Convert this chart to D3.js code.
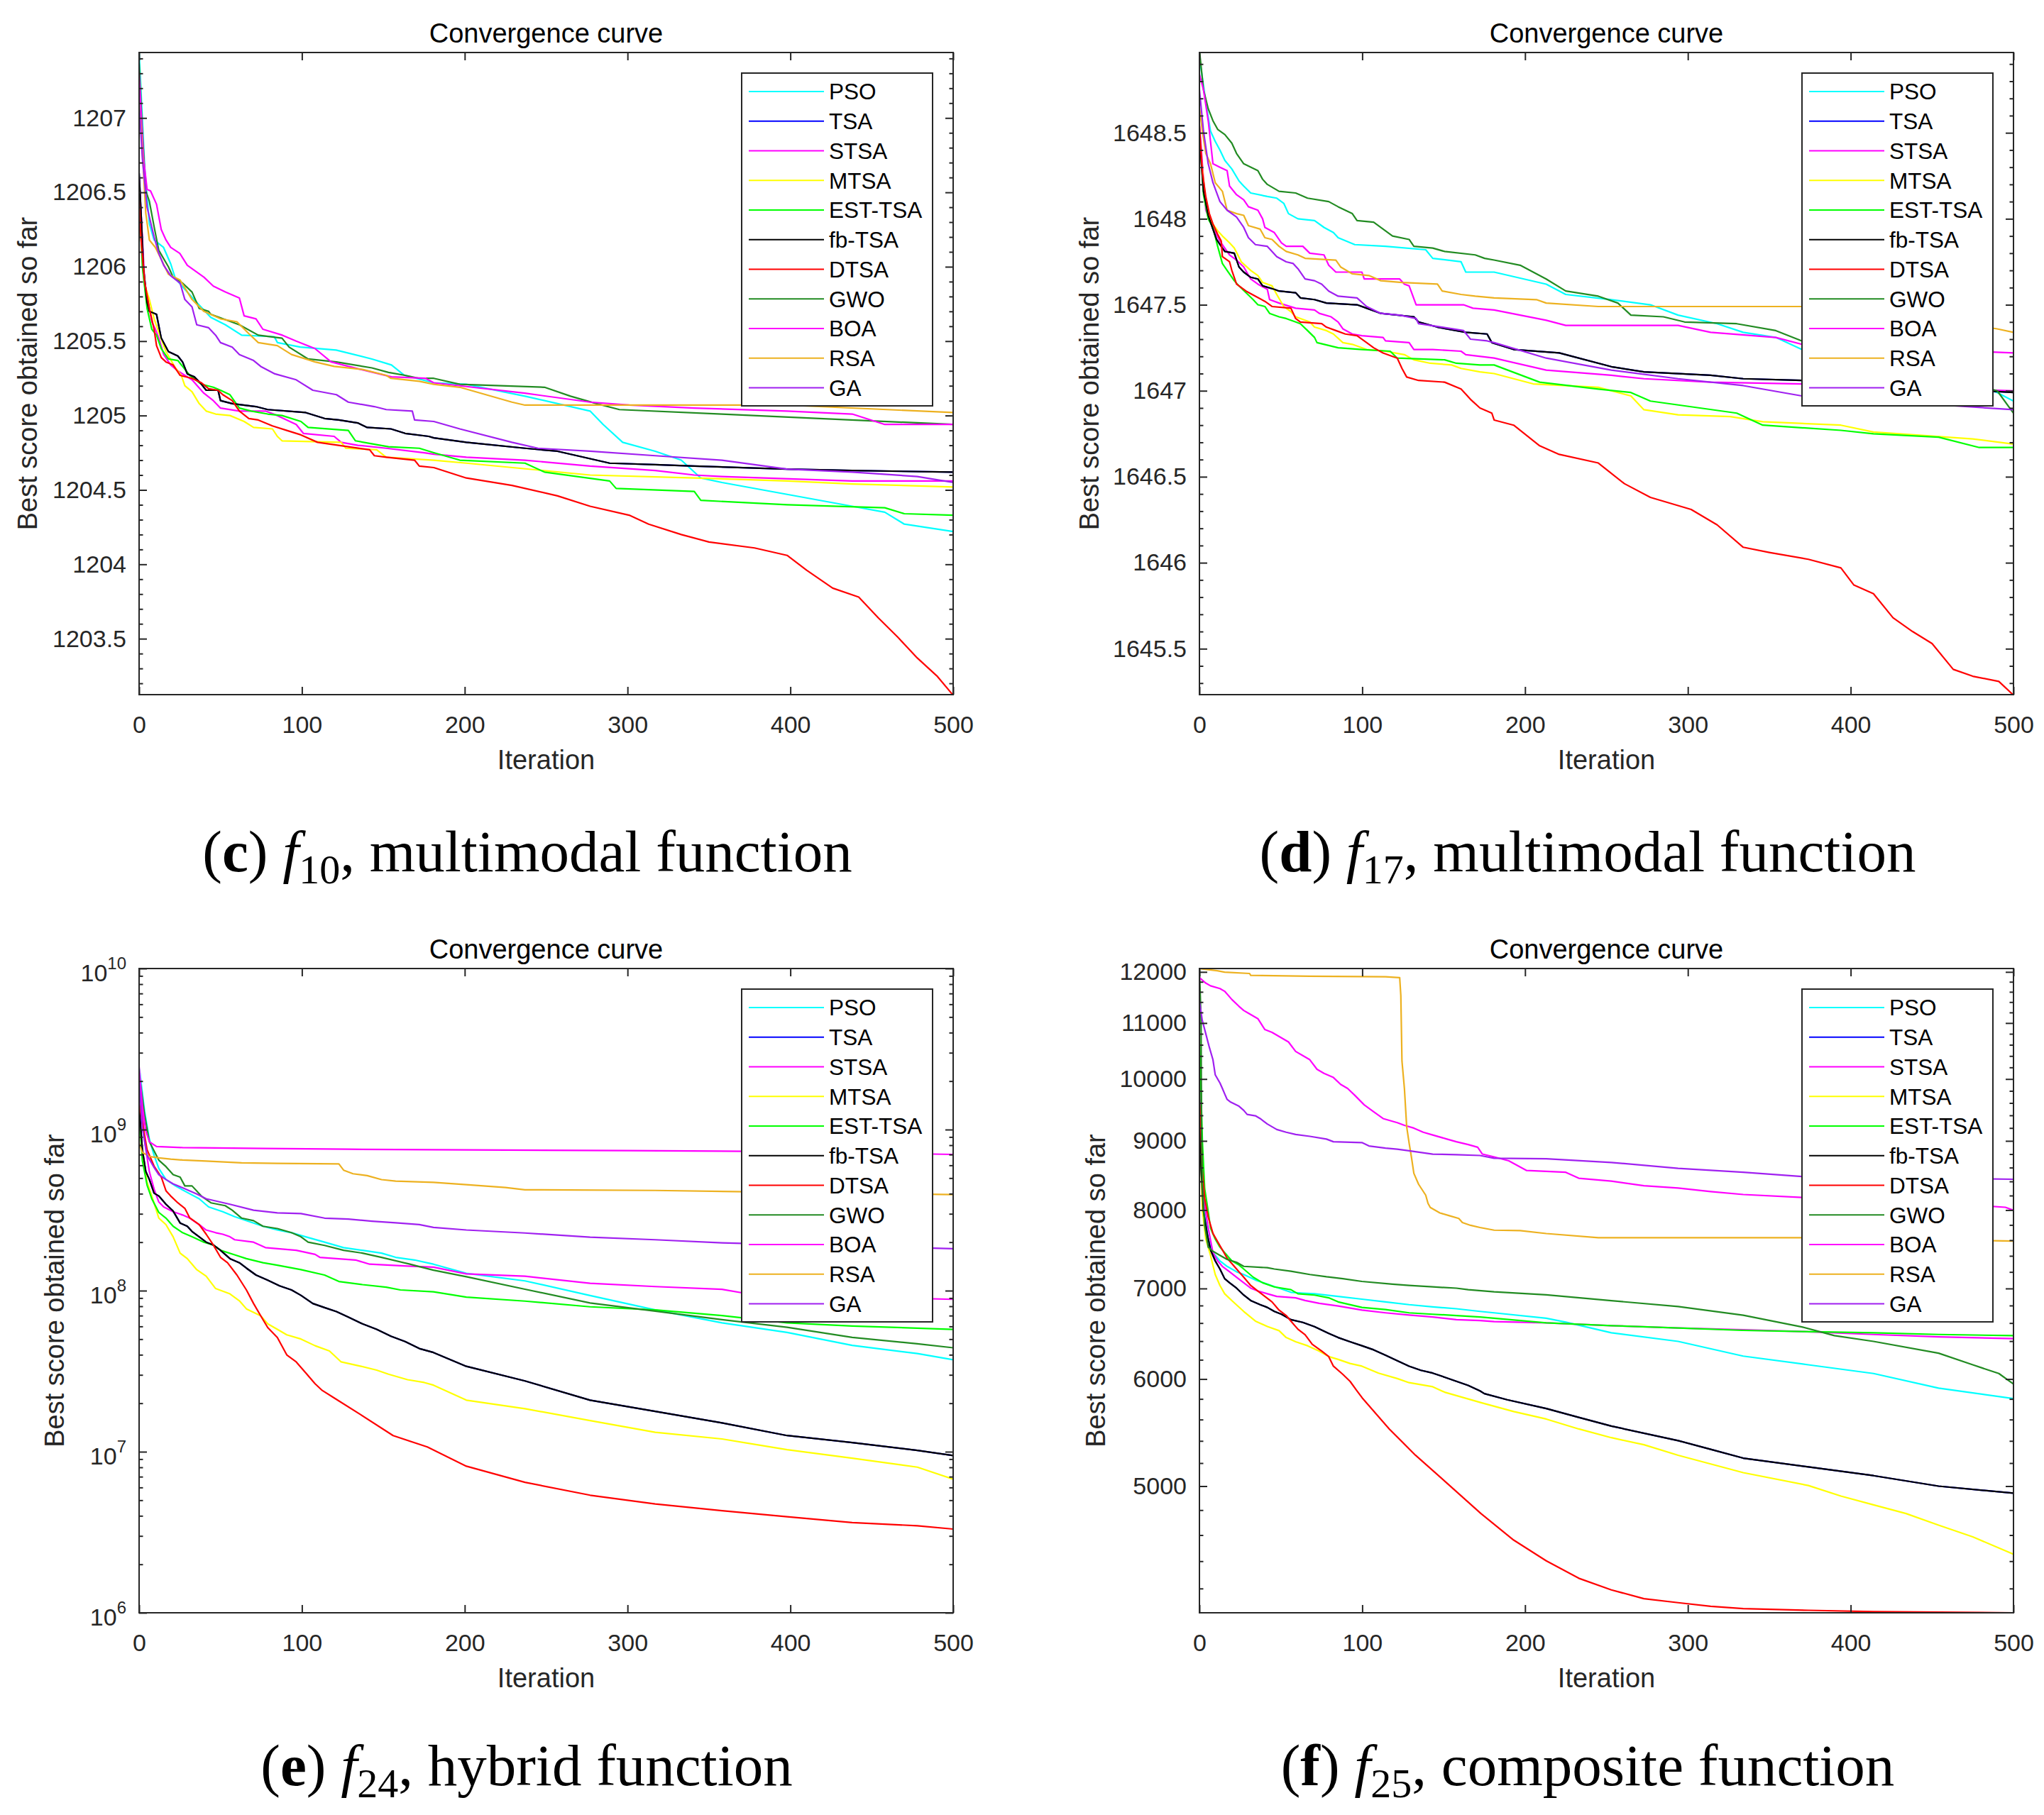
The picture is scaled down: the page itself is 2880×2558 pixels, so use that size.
<!DOCTYPE html>
<html><head><meta charset="utf-8">
<script src="https://cdn.jsdelivr.net/npm/d3@7"></script>
<style>body{margin:0;background:#fff}svg{display:block}</style>
</head><body>
<svg id="chart" width="2880" height="2558"></svg>
<script>
// ---------------- DATA ----------------
const algorithms = ["PSO","TSA","STSA","MTSA","EST-TSA","fb-TSA","DTSA","GWO","BOA","RSA","GA"];
const seriesColors = ["#00ffff","#0000ff","#ff00ff","#ffff00","#00ff00","#000000","#ff0000","#228b22","#ff00ff","#edb120","#a020f0"];
const xTickValues = [0,100,200,300,400,500];

// (c) f10 — [iteration, best score]
const f10_PSO = [[0,1207.44],[3.4,1206.67],[6.3,1206.29],[9.2,1206.18],[15,1206.13],[19.4,1206.02],[22.3,1205.92],[28,1205.85],[35.4,1205.76],[44,1205.66],[53,1205.61],[63,1205.54],[83,1205.53],[85,1205.49],[99,1205.46],[121,1205.44],[143,1205.38],[155,1205.34],[163,1205.27],[181,1205.22],[201,1205.21],[237,1205.13],[277,1205.03],[285,1204.94],[297,1204.82],[317,1204.76],[333,1204.70],[345,1204.58],[358,1204.55],[398,1204.47],[438,1204.39],[458,1204.35],[470,1204.27],[500,1204.22]];
const f10_STSA = [[0,1206.6],[3.4,1205.9],[7.8,1205.63],[10,1205.58],[12.1,1205.52],[15.1,1205.41],[19.4,1205.34],[23.8,1205.30],[32.5,1205.24],[39.8,1205.15],[45.6,1205.10],[50,1205.05],[61.6,1205.03],[77.6,1205.03],[84.9,1205.0],[96.5,1204.94],[100.9,1204.88],[119.8,1204.86],[124.1,1204.82],[134.3,1204.80],[151.8,1204.78],[175.1,1204.75],[181,1204.74],[201,1204.72],[237,1204.70],[277,1204.66],[317,1204.63],[341,1204.60],[358,1204.59],[438,1204.56],[500,1204.56]];
const f10_MTSA = [[0,1206.4],[2,1206.1],[3.4,1205.88],[6.3,1205.78],[9.2,1205.65],[12.1,1205.56],[16.5,1205.43],[22.3,1205.32],[25.9,1205.27],[28.1,1205.20],[32.5,1205.16],[36.9,1205.08],[41.2,1205.03],[47,1205.01],[55.8,1205.0],[64.5,1204.96],[70.3,1204.92],[81.9,1204.91],[84.9,1204.86],[87.8,1204.83],[124.1,1204.82],[127,1204.78],[145.9,1204.77],[151.8,1204.72],[181,1204.70],[201,1204.68],[277,1204.60],[341,1204.58],[398,1204.56],[438,1204.54],[500,1204.52]];
const f10_EST = [[0,1206.5],[2,1206.0],[4.9,1205.72],[7.8,1205.58],[10.7,1205.54],[13.6,1205.45],[18,1205.38],[23.8,1205.37],[26.7,1205.33],[31.1,1205.27],[38.3,1205.21],[45.6,1205.19],[50,1205.17],[55.8,1205.14],[61.6,1205.05],[68.9,1205.03],[79,1205.01],[87.8,1205.0],[99.4,1204.96],[103.8,1204.92],[128.5,1204.90],[132.9,1204.83],[153.2,1204.79],[172.1,1204.78],[181,1204.75],[197,1204.70],[237,1204.68],[249,1204.62],[289,1204.56],[293,1204.51],[341,1204.49],[345,1204.43],[398,1204.40],[458,1204.38],[470,1204.34],[500,1204.33]];
const f10_fbTSA = [[0,1206.63],[1.2,1206.36],[2.7,1205.99],[4.9,1205.76],[6.3,1205.70],[10.7,1205.68],[13.6,1205.52],[18,1205.43],[23.8,1205.40],[26.7,1205.36],[29.6,1205.28],[33.9,1205.26],[38.3,1205.21],[41.2,1205.17],[48.5,1205.17],[50,1205.10],[57.2,1205.08],[71.8,1205.06],[79,1205.04],[102.3,1205.02],[113.9,1204.98],[122.7,1204.97],[134.3,1204.95],[140.1,1204.92],[154.7,1204.91],[163.4,1204.88],[177.9,1204.86],[181,1204.85],[201,1204.82],[237,1204.78],[257,1204.76],[289,1204.68],[317,1204.67],[341,1204.66],[398,1204.64],[438,1204.63],[500,1204.62]];
const f10_TSA = f10_fbTSA.map(d => d.slice()); // hidden beneath fb-TSA in the figure
const f10_DTSA = [[0,1206.45],[1.2,1206.18],[3.4,1205.9],[6.3,1205.72],[9.2,1205.58],[10.7,1205.47],[13.6,1205.39],[16.5,1205.36],[20.9,1205.34],[25.2,1205.27],[32.5,1205.25],[38.3,1205.22],[42.7,1205.18],[48.5,1205.17],[51.4,1205.14],[57.2,1205.10],[61.6,1205.03],[67.4,1204.98],[73.2,1204.97],[81.9,1204.93],[90.7,1204.90],[99.4,1204.87],[109.6,1204.82],[128.5,1204.79],[141.6,1204.77],[144.5,1204.73],[151.8,1204.72],[169.2,1204.70],[172.1,1204.66],[181,1204.65],[201,1204.58],[229,1204.53],[257,1204.46],[277,1204.39],[301,1204.33],[313,1204.27],[333,1204.20],[350,1204.15],[378,1204.11],[398,1204.06],[410,1203.96],[426,1203.84],[442,1203.78],[454,1203.64],[466,1203.51],[478,1203.37],[490,1203.25],[500,1203.12]];
const f10_GWO = [[0,1207.37],[2,1206.91],[4.1,1206.51],[6.3,1206.44],[9.2,1206.27],[12.1,1206.11],[18,1206.0],[20.9,1205.93],[26.7,1205.89],[32.5,1205.83],[36.9,1205.72],[42.7,1205.70],[44.1,1205.68],[61.6,1205.61],[73.2,1205.54],[87.8,1205.52],[92.1,1205.46],[103.8,1205.38],[121.2,1205.36],[143,1205.32],[153.2,1205.29],[163.4,1205.27],[172.1,1205.25],[181,1205.25],[197,1205.21],[249,1205.19],[265,1205.13],[281,1205.08],[295,1205.04],[358,1205.01],[418,1204.98],[500,1204.94]];
const f10_BOA = [[0,1207.3],[2.7,1206.73],[4.9,1206.52],[7,1206.51],[10.7,1206.42],[13.6,1206.25],[16.5,1206.18],[19.4,1206.13],[25,1206.09],[29.6,1206.01],[39.8,1205.93],[45.6,1205.87],[53,1205.83],[61.6,1205.79],[64.5,1205.67],[71.8,1205.65],[76,1205.58],[88,1205.54],[96.5,1205.50],[108,1205.45],[118,1205.36],[136,1205.31],[155,1205.26],[176,1205.25],[181,1205.22],[237,1205.15],[277,1205.09],[301,1205.07],[341,1205.05],[398,1205.03],[438,1205.01],[458,1204.94],[500,1204.94]];
const f10_RSA = [[0,1207.09],[1.2,1206.94],[4.1,1206.36],[6.3,1206.18],[10,1206.13],[13.6,1206.05],[18,1205.95],[25.2,1205.91],[32.5,1205.78],[39.8,1205.70],[50,1205.65],[60.1,1205.63],[67.4,1205.55],[73.2,1205.49],[84.9,1205.47],[93.6,1205.41],[108.1,1205.36],[119.8,1205.33],[137.2,1205.31],[151.8,1205.27],[154.7,1205.25],[172.1,1205.23],[181,1205.21],[197,1205.19],[229,1205.09],[237,1205.07],[398,1205.07],[500,1205.02]];
const f10_GA = [[0,1207.1],[2,1206.73],[4.9,1206.4],[9.2,1206.2],[12.1,1206.09],[15.1,1206.01],[19.4,1205.94],[25.2,1205.89],[28.1,1205.78],[32.5,1205.73],[35.4,1205.61],[42.7,1205.59],[47,1205.54],[50,1205.49],[57.2,1205.46],[61.6,1205.41],[70.3,1205.37],[74.7,1205.33],[83.4,1205.28],[96.5,1205.24],[106.7,1205.17],[121.2,1205.14],[128.5,1205.09],[144.5,1205.06],[151.8,1205.04],[167.8,1205.03],[169.2,1204.97],[181,1204.96],[197,1204.91],[229,1204.82],[245,1204.78],[277,1204.76],[317,1204.73],[358,1204.70],[398,1204.64],[438,1204.62],[478,1204.59],[500,1204.55]];

// (d) f17
const f17_PSO = [[0,1648.94],[3.9,1648.68],[6.8,1648.51],[9.7,1648.45],[12.6,1648.40],[15.6,1648.34],[19.9,1648.29],[24.3,1648.22],[27.2,1648.19],[31.5,1648.15],[41.7,1648.13],[47.5,1648.12],[51.8,1648.09],[54.7,1648.03],[60.5,1648.0],[70.7,1647.99],[76.5,1647.95],[82.3,1647.92],[85.2,1647.89],[95.4,1647.85],[114.3,1647.84],[139,1647.82],[143.3,1647.77],[160.7,1647.75],[163.6,1647.69],[181,1647.69],[213,1647.62],[225,1647.56],[253,1647.53],[277,1647.50],[294,1647.44],[318,1647.39],[334,1647.34],[354,1647.31],[370,1647.24],[382,1647.22],[450,1647.10],[490,1646.99],[500,1646.94]];
const f17_STSA = [[0,1648.55],[3.9,1648.05],[8.3,1647.95],[12.6,1647.87],[18.5,1647.79],[22.8,1647.76],[27.2,1647.72],[31.5,1647.65],[35.9,1647.62],[41.7,1647.59],[43.1,1647.53],[48.9,1647.51],[59.1,1647.48],[70.7,1647.47],[73.6,1647.45],[80.9,1647.43],[85.2,1647.40],[88.1,1647.36],[93.9,1647.33],[99.8,1647.32],[112.8,1647.31],[114.3,1647.29],[128.8,1647.28],[131.7,1647.24],[143.3,1647.24],[160.7,1647.23],[163.6,1647.21],[181,1647.19],[213,1647.12],[253,1647.09],[273,1647.07],[314,1647.05],[370,1647.04],[500,1647.0]];
const f17_MTSA = [[0,1648.45],[3.9,1648.10],[6.8,1647.99],[11.2,1647.93],[14.1,1647.90],[18.5,1647.86],[21.4,1647.83],[25.7,1647.75],[31.5,1647.70],[35.9,1647.67],[38.8,1647.63],[44.6,1647.61],[47.5,1647.56],[51.8,1647.49],[56.2,1647.46],[59.1,1647.43],[67.8,1647.40],[70.7,1647.37],[78,1647.35],[82.3,1647.33],[88.1,1647.28],[93.9,1647.27],[102.7,1647.24],[114.3,1647.23],[125.9,1647.21],[131.7,1647.18],[141.8,1647.16],[154.9,1647.15],[160.7,1647.13],[172.3,1647.11],[181,1647.10],[205,1647.04],[245,1647.02],[265,1646.97],[273,1646.89],[294,1646.86],[326,1646.85],[346,1646.82],[394,1646.80],[414,1646.76],[475,1646.72],[500,1646.69]];
const f17_EST = [[0,1648.5],[2.5,1648.14],[5.4,1648.0],[8.3,1647.95],[11.2,1647.84],[14.1,1647.74],[17,1647.70],[21.4,1647.64],[24.3,1647.61],[28.6,1647.57],[33,1647.53],[35.9,1647.50],[40.2,1647.49],[43.1,1647.45],[48.9,1647.43],[53.3,1647.42],[59.1,1647.40],[62,1647.39],[66.4,1647.35],[70.7,1647.31],[72.2,1647.28],[85.2,1647.25],[99.8,1647.24],[117.2,1647.23],[121.5,1647.19],[150.6,1647.18],[157.8,1647.16],[172.3,1647.15],[181,1647.15],[209,1647.05],[245,1647.01],[265,1646.99],[277,1646.94],[330,1646.87],[346,1646.80],[394,1646.77],[414,1646.75],[454,1646.73],[479,1646.67],[500,1646.67]];
const f17_fbTSA = [[0,1648.48],[2.5,1648.16],[5.4,1648.02],[8.3,1647.94],[10.5,1647.88],[14.1,1647.83],[15.6,1647.81],[21.4,1647.80],[24.3,1647.72],[27.2,1647.69],[31.5,1647.66],[35.9,1647.65],[38.8,1647.61],[46,1647.59],[48.9,1647.58],[59.1,1647.57],[62,1647.54],[70.7,1647.53],[78,1647.51],[96.8,1647.50],[102.7,1647.48],[108.5,1647.46],[111.4,1647.45],[131.7,1647.43],[134.6,1647.40],[146.2,1647.37],[163.6,1647.34],[176.7,1647.33],[179.6,1647.28],[193,1647.24],[221,1647.22],[253,1647.14],[273,1647.11],[314,1647.09],[334,1647.07],[370,1647.06],[500,1646.99]];
const f17_TSA = f17_fbTSA.map(d => d.slice());
const f17_DTSA = [[0,1648.54],[1.8,1648.27],[3.9,1648.13],[6.1,1648.03],[8.3,1647.97],[11.2,1647.91],[13.4,1647.87],[14.1,1647.78],[18.5,1647.75],[19.9,1647.70],[22.8,1647.62],[28.6,1647.58],[34.4,1647.55],[40.2,1647.52],[44.6,1647.49],[56.2,1647.48],[59.1,1647.42],[62,1647.40],[75.1,1647.39],[78,1647.37],[83.8,1647.35],[89.6,1647.33],[96.8,1647.32],[102.7,1647.28],[107,1647.25],[112.8,1647.22],[121.5,1647.19],[124.4,1647.13],[127.3,1647.08],[134.6,1647.06],[150.6,1647.05],[160.7,1647.01],[166.5,1646.95],[172.3,1646.90],[179.6,1646.87],[181,1646.83],[193,1646.80],[209,1646.68],[221,1646.63],[245,1646.58],[261,1646.46],[277,1646.38],[302,1646.31],[318,1646.22],[334,1646.09],[350,1646.06],[374,1646.02],[394,1645.97],[402,1645.87],[414,1645.82],[426,1645.68],[438,1645.60],[450,1645.53],[463,1645.38],[475,1645.34],[491,1645.31],[500,1645.23]];
const f17_GWO = [[0,1648.98],[2.5,1648.75],[5.4,1648.64],[8.3,1648.57],[11.2,1648.52],[15.6,1648.49],[19.9,1648.44],[22.8,1648.38],[27.2,1648.32],[35.9,1648.28],[38.8,1648.23],[41.7,1648.20],[48.9,1648.16],[59.1,1648.15],[66.4,1648.12],[79.4,1648.10],[85.2,1648.07],[93.9,1648.03],[96.8,1647.99],[107,1647.98],[112.8,1647.94],[118.6,1647.90],[128.8,1647.88],[131.7,1647.84],[143.3,1647.83],[150.6,1647.81],[169.4,1647.79],[175.2,1647.77],[181,1647.76],[197,1647.73],[213,1647.65],[225,1647.58],[245,1647.55],[257,1647.51],[265,1647.44],[285,1647.43],[298,1647.40],[330,1647.39],[354,1647.35],[370,1647.29],[400,1647.22],[450,1647.10],[490,1647.0],[500,1646.87]];
const f17_BOA = [[0,1648.84],[2.5,1648.75],[5.4,1648.57],[6.8,1648.45],[8.3,1648.32],[12.6,1648.30],[17,1648.28],[18.5,1648.19],[22.8,1648.14],[27.2,1648.11],[30.1,1648.07],[35.9,1648.05],[38.8,1648.0],[40.2,1647.95],[46,1647.92],[50.4,1647.86],[53.3,1647.84],[63.5,1647.84],[67.8,1647.80],[76.5,1647.79],[79.4,1647.73],[83.8,1647.69],[99.8,1647.69],[101.2,1647.65],[123,1647.65],[125.9,1647.62],[128.8,1647.61],[133.1,1647.50],[162.2,1647.50],[168,1647.48],[181,1647.47],[197,1647.44],[213,1647.41],[225,1647.38],[294,1647.38],[314,1647.34],[354,1647.31],[370,1647.27],[420,1647.25],[500,1647.22]];
const f17_RSA = [[0,1648.65],[1.8,1648.51],[3.9,1648.38],[6.8,1648.32],[9.7,1648.21],[14.1,1648.16],[17,1648.05],[22.8,1648.03],[27.2,1648.02],[30.1,1647.96],[37.3,1647.94],[40.2,1647.89],[44.6,1647.88],[48.9,1647.84],[53.3,1647.81],[60.5,1647.79],[64.9,1647.77],[83.8,1647.76],[86.7,1647.72],[93.9,1647.68],[104.1,1647.67],[111.4,1647.64],[124.4,1647.63],[146.2,1647.62],[149.1,1647.58],[160.7,1647.56],[169.4,1647.55],[181,1647.54],[207,1647.53],[213,1647.51],[245,1647.49],[400,1647.49],[490,1647.36],[500,1647.34]];
const f17_GA = [[0,1648.75],[2.5,1648.51],[5.4,1648.32],[8.3,1648.21],[12.6,1648.10],[17,1648.05],[22.8,1648.01],[27.2,1647.95],[30.1,1647.89],[34.4,1647.85],[41.7,1647.84],[47.5,1647.78],[53.3,1647.75],[57.6,1647.74],[60.5,1647.71],[64.9,1647.65],[70.7,1647.64],[75.1,1647.62],[79.4,1647.58],[85.2,1647.55],[96.8,1647.54],[102.7,1647.49],[111.4,1647.45],[123,1647.44],[133.1,1647.42],[134.6,1647.39],[149.1,1647.37],[162.2,1647.35],[166.5,1647.30],[176.7,1647.29],[181,1647.28],[213,1647.19],[253,1647.12],[294,1647.07],[334,1647.03],[370,1646.97],[420,1646.94],[500,1646.89]];

// (e) f24
const f24_PSO = [[0,2.4e9],[0.5,2.24e9],[3.4,1.29e9],[6.3,8.71e8],[9.2,6.92e8],[12.1,5.75e8],[16.5,4.9e8],[22.3,4.47e8],[29.6,4.07e8],[36.9,3.72e8],[42.7,3.31e8],[51.4,3.09e8],[58.7,2.88e8],[67.4,2.69e8],[76.1,2.51e8],[84.9,2.38e8],[93.6,2.29e8],[102.3,2.16e8],[113.9,2.0e8],[125.6,1.85e8],[137.2,1.78e8],[148.9,1.71e8],[157.6,1.61e8],[169.2,1.55e8],[180.8,1.46e8],[201,1.28e8],[237,1.15e8],[277,9.33e7],[317,7.59e7],[358,6.31e7],[398,5.5e7],[438,4.57e7],[478,4.07e7],[500,3.72e7]];
const f24_STSA = [[0,2.2e9],[0.5,2.04e9],[3.4,8.41e8],[6.3,5.48e8],[9.2,4.27e8],[12.1,3.55e8],[15.1,3.31e8],[20.9,3.09e8],[26.7,2.95e8],[31.1,2.82e8],[38.3,2.51e8],[41.2,2.38e8],[47,2.29e8],[51.4,2.24e8],[55.8,2.16e8],[58.7,2.07e8],[70.3,2.0e8],[77.6,1.85e8],[96.5,1.78e8],[108.1,1.68e8],[111,1.61e8],[132.9,1.55e8],[141.6,1.46e8],[164.9,1.42e8],[180.8,1.4e8],[201,1.27e8],[237,1.23e8],[277,1.11e8],[317,1.06e8],[358,1.02e8],[374,9.55e7],[500,8.83e7]];
const f24_MTSA = [[0,1.2e9],[2,6.92e8],[4.9,4.7e8],[7.8,3.87e8],[12.1,2.82e8],[16.5,2.57e8],[20.9,2.16e8],[25.2,1.71e8],[29.6,1.58e8],[35.4,1.35e8],[41.2,1.23e8],[47,1.03e8],[55.8,9.55e7],[61.6,8.65e7],[65.9,7.71e7],[74.7,6.98e7],[79,6.22e7],[84.9,5.75e7],[90.7,5.32e7],[99.4,5.01e7],[108.1,4.55e7],[116.9,4.22e7],[124.1,3.61e7],[135.8,3.4e7],[145.9,3.21e7],[153.2,3.03e7],[164.9,2.8e7],[175.1,2.69e7],[180.8,2.59e7],[201,2.09e7],[237,1.85e7],[277,1.56e7],[317,1.32e7],[358,1.2e7],[398,1.03e7],[438,9.12e6],[478,8.02e6],[500,6.76e6]];
const f24_EST = [[0,1.29e9],[2,6.41e8],[4.9,4.52e8],[7.8,3.72e8],[12.1,3.06e8],[16.5,2.82e8],[20.9,2.51e8],[26.7,2.29e8],[32.5,2.16e8],[39.8,2.0e8],[45.6,1.92e8],[50,1.78e8],[58.7,1.67e8],[65.9,1.58e8],[76.1,1.49e8],[84.9,1.44e8],[99.4,1.35e8],[113.9,1.25e8],[122.7,1.14e8],[137.2,1.09e8],[151.8,1.05e8],[160.5,1.01e8],[180.8,9.84e7],[201,9.12e7],[237,8.61e7],[277,7.94e7],[317,7.59e7],[358,7.0e7],[398,6.31e7],[438,6.03e7],[500,5.75e7]];
const f24_fbTSA = [[0,1.4e9],[2,7.5e8],[4.1,5.5e8],[6.3,4.9e8],[9.2,4.03e8],[12.1,3.87e8],[16.5,3.44e8],[20.9,3.12e8],[25.2,2.63e8],[29.6,2.51e8],[32.5,2.33e8],[36.9,2.16e8],[41.2,2.0e8],[45.6,1.92e8],[50,1.78e8],[55.8,1.58e8],[61.6,1.49e8],[65.9,1.38e8],[71.8,1.25e8],[79,1.16e8],[86.3,1.07e8],[93.6,1.01e8],[99.4,9.35e7],[106.7,8.32e7],[113.9,7.85e7],[121.2,7.41e7],[128.5,6.85e7],[137.2,6.22e7],[145.9,5.75e7],[154.7,5.21e7],[163.4,4.83e7],[172.1,4.37e7],[180.8,4.13e7],[201,3.39e7],[237,2.75e7],[277,2.09e7],[317,1.78e7],[358,1.51e7],[398,1.26e7],[438,1.14e7],[478,1.02e7],[500,9.46e6]];
const f24_TSA = f24_fbTSA.map(d => d.slice());
const f24_DTSA = [[0,1.48e9],[2,1.11e9],[4.9,7.5e8],[9.2,5.93e8],[13.6,5.08e8],[16.5,4.17e8],[19.4,3.87e8],[23.8,3.51e8],[28.1,3.24e8],[31.1,2.83e8],[36.9,2.57e8],[41.2,2.24e8],[45.6,1.92e8],[50,1.61e8],[54.3,1.49e8],[60.1,1.25e8],[65.9,1.01e8],[70.3,8.32e7],[74.7,6.98e7],[79,5.9e7],[84.9,5.12e7],[90.7,3.99e7],[96.5,3.61e7],[102.3,3.09e7],[108.1,2.64e7],[112.5,2.4e7],[120,2.15e7],[136,1.7e7],[156,1.26e7],[177,1.07e7],[201,8.13e6],[237,6.46e6],[277,5.37e6],[317,4.74e6],[358,4.3e6],[398,3.95e6],[438,3.63e6],[478,3.47e6],[500,3.31e6]];
const f24_GWO = [[0,2.24e9],[3.4,1.23e9],[6.3,8.41e8],[12.1,6.46e8],[16.5,5.89e8],[20.9,5.25e8],[25.2,5.07e8],[28.1,4.47e8],[32.5,4.47e8],[38.3,3.86e8],[44.1,3.51e8],[52.9,3.37e8],[57.2,3.16e8],[63,2.82e8],[70.3,2.72e8],[76.1,2.51e8],[84.9,2.43e8],[93.6,2.29e8],[99.4,2.16e8],[103.8,2.0e8],[113.9,1.91e8],[125.6,1.78e8],[137.2,1.71e8],[148.9,1.61e8],[166.3,1.46e8],[172.1,1.41e8],[180.8,1.34e8],[201,1.22e8],[237,1.02e8],[277,8.39e7],[317,7.46e7],[358,6.61e7],[398,5.92e7],[438,5.13e7],[478,4.68e7],[500,4.42e7]];
const f24_BOA = [[0,2.45e9],[2,1.4e9],[4.1,9.84e8],[6.3,8.41e8],[10.7,7.85e8],[26.7,7.73e8],[77.6,7.64e8],[128.5,7.55e8],[180.8,7.5e8],[300,7.4e8],[400,7.3e8],[500,7.01e8]];
const f24_RSA = [[0,8.26e8],[2,7.21e8],[6.3,6.81e8],[12.1,6.67e8],[19.4,6.55e8],[26.7,6.47e8],[41.2,6.37e8],[63,6.22e8],[84.9,6.17e8],[122.7,6.12e8],[125.6,5.6e8],[131.4,5.32e8],[140.1,5.18e8],[148.9,4.89e8],[157.6,4.79e8],[180.8,4.7e8],[201,4.55e8],[225,4.37e8],[237,4.23e8],[317,4.19e8],[500,3.95e8]];
const f24_GA = [[0,2.04e9],[2,1.02e9],[4.9,6.92e8],[9.2,5.82e8],[12.1,5.25e8],[16.5,4.9e8],[20.9,4.6e8],[26.7,4.35e8],[35.4,3.98e8],[41.2,3.72e8],[55.8,3.44e8],[70.3,3.16e8],[84.9,3.04e8],[99.4,3.01e8],[113.9,2.82e8],[128.5,2.78e8],[143,2.7e8],[157.6,2.64e8],[172.1,2.57e8],[180.8,2.47e8],[201,2.38e8],[237,2.28e8],[277,2.15e8],[317,2.07e8],[358,1.98e8],[398,1.93e8],[438,1.9e8],[500,1.82e8]];

// (f) f25
const f25_PSO = [[0,10200],[1.8,8758],[3.2,7979],[5.4,7615],[8.3,7440],[12.6,7337],[17,7269],[22.8,7202],[27.2,7169],[34.4,7101],[41.7,7052],[48.9,7004],[56.2,6955],[63.5,6945],[70.7,6938],[85.2,6906],[99.8,6874],[114.3,6842],[128.8,6810],[143.3,6785],[157.8,6763],[172.3,6732],[181,6716],[213,6655],[225,6610],[253,6492],[294,6397],[334,6239],[374,6147],[414,6057],[454,5908],[500,5804]];
const f25_STSA = [[0,10500],[2.5,8167],[5.4,7759],[8.3,7440],[11.2,7337],[14.1,7269],[18.5,7202],[22.8,7136],[27.2,7069],[31.5,7004],[35.9,6970],[41.7,6938],[47.5,6906],[59.1,6890],[64.9,6858],[73.6,6826],[85.2,6795],[99.8,6747],[114.3,6716],[128.8,6691],[143.3,6669],[157.8,6638],[172.3,6629],[181,6616],[213,6603],[253,6571],[294,6544],[334,6525],[370,6505],[414,6473],[454,6447],[500,6428]];
const f25_MTSA = [[0,9500],[1.8,8000],[3.9,7615],[6.8,7406],[9.7,7169],[12.6,7036],[15.5,6938],[19.9,6858],[27.2,6732],[34.4,6622],[41.7,6561],[48.9,6515],[53.3,6439],[59.1,6394],[66.4,6350],[73.6,6292],[79.4,6234],[85.2,6204],[92.5,6161],[99.8,6133],[110,6061],[121.5,6005],[128.8,5963],[143.3,5922],[150.6,5867],[173,5763],[193,5677],[213,5605],[233,5511],[253,5430],[273,5365],[294,5270],[314,5192],[334,5116],[374,5005],[394,4916],[414,4843],[434,4772],[454,4678],[475,4586],[500,4452]];
const f25_EST = [[0,10800],[1.8,9000],[3.2,8300],[5.4,7979],[6.8,7759],[9.7,7615],[12.6,7511],[15.5,7440],[19.9,7337],[24.3,7286],[27.2,7236],[33,7136],[38.8,7069],[46,7019],[56.2,6986],[60.5,6938],[70.7,6922],[79.4,6890],[85.2,6842],[99.8,6778],[114.3,6753],[128.8,6716],[143.3,6700],[157.8,6685],[172.3,6669],[181,6654],[213,6603],[253,6571],[294,6544],[334,6518],[370,6505],[414,6492],[454,6473],[500,6460]];
const f25_fbTSA = [[0,9660],[1,8600],[2.5,7979],[4.7,7688],[6.8,7476],[9.7,7337],[12.6,7236],[15.5,7118],[18.5,7069],[22.8,7004],[27.2,6922],[31.5,6858],[37.3,6810],[41.7,6778],[46,6732],[50.4,6700],[56.2,6638],[63.5,6607],[70.7,6560],[79.4,6485],[85.2,6439],[92.5,6394],[99.8,6350],[107,6306],[114.3,6248],[121.5,6190],[128.8,6133],[136,6090],[143.3,6061],[150.6,6019],[157.8,5977],[165,5935],[172.3,5880],[175,5853],[189,5792],[213,5706],[233,5621],[253,5538],[294,5403],[314,5323],[334,5244],[374,5166],[414,5090],[454,5000],[500,4940]];
const f25_TSA = f25_fbTSA.map(d => d.slice());
const f25_DTSA = [[0,9600],[0.7,9349],[1.8,8557],[3.2,8167],[5.4,7906],[8.3,7688],[11.2,7580],[14.1,7476],[17,7371],[21.4,7269],[24.3,7202],[27.2,7136],[31.5,7036],[35.9,6970],[40.2,6906],[44.6,6842],[48.9,6747],[53.3,6685],[56.2,6622],[60.5,6531],[64.9,6470],[69.3,6365],[75.1,6292],[79.4,6234],[82.3,6133],[88.1,6048],[92.5,5977],[96.8,5880],[100,5810],[116.6,5511],[132.7,5270],[152.8,5016],[172.9,4772],[193,4561],[213,4403],[233,4274],[253,4190],[273,4128],[294,4100],[314,4075],[334,4059],[374,4047],[414,4038],[500,4030]];
const f25_GWO = [[0,12068],[1,11056],[1.3,9176],[1.8,8360],[3.2,7795],[5.4,7511],[8.3,7458],[12.6,7406],[17,7355],[22.8,7320],[27.2,7269],[41.7,7252],[46,7236],[56.2,7209],[67.8,7169],[78,7141],[88.1,7118],[99.8,7085],[118.6,7052],[128.8,7036],[143.3,7019],[157.8,7004],[165.1,6986],[181,6960],[213,6925],[253,6856],[294,6789],[334,6689],[370,6557],[390,6460],[414,6397],[454,6270],[475,6147],[491,6057],[500,5949]];
const f25_BOA = [[0,11885],[3.9,11774],[6.8,11720],[12.6,11665],[15.5,11611],[19.9,11450],[24.3,11317],[27.2,11238],[30.1,11186],[35.9,11082],[40.2,10878],[44.6,10827],[48.9,10751],[54.7,10651],[59.1,10480],[63.5,10406],[67.8,10334],[72.2,10167],[76.5,10097],[82.3,10026],[86.7,9910],[91,9841],[95.4,9727],[101.2,9570],[107,9458],[112.8,9349],[121.5,9284],[125.9,9241],[131.7,9198],[137.5,9134],[143.3,9091],[152,9028],[157.8,8987],[165.1,8944],[170.9,8903],[173.8,8800],[181,8758],[190,8700],[201,8557],[225,8532],[233,8446],[253,8405],[273,8338],[294,8305],[314,8256],[334,8215],[370,8174],[420,8150],[495,8038],[500,7997]];
const f25_RSA = [[0,12068],[11,12024],[15.5,11996],[30.8,11968],[31.5,11930],[67.8,11912],[114.3,11902],[123,11885],[123.7,11530],[124.4,10310],[125.9,9841],[127.3,9219],[128.8,8965],[130.2,8758],[131.7,8517],[134.6,8360],[139,8205],[140.4,8092],[141.8,8035],[147.7,7961],[153.5,7924],[159.3,7887],[161.5,7832],[166.5,7795],[172.3,7766],[181,7731],[197,7725],[213,7687],[245,7633],[400,7633],[500,7588]];
const f25_GA = [[0,11423],[1.7,11056],[3.9,10802],[6.1,10553],[8.3,10334],[9.7,10073],[12.6,9933],[14.1,9841],[15.5,9750],[17,9659],[19.2,9614],[24.3,9547],[27.2,9481],[29.3,9415],[34.4,9393],[37.3,9349],[41.7,9263],[47.5,9176],[53.3,9134],[59.1,9099],[67.8,9070],[78,9028],[82.3,8987],[99.8,8974],[104.1,8923],[114.3,8890],[121.5,8873],[128.8,8849],[143.3,8800],[157.8,8791],[172.3,8779],[181,8738],[213,8730],[253,8676],[294,8590],[334,8532],[370,8471],[500,8431]];

// tick labels / domains
const f10_yTicks = [1203.5,1204,1204.5,1205,1205.5,1206,1206.5,1207];
const f17_yTicks = [1645.5,1646,1646.5,1647,1647.5,1648,1648.5];
const f24_yTicks = [1e6,1e7,1e8,1e9,1e10];
const f25_yTicks = [5000,6000,7000,8000,9000,10000,11000,12000];
const f10_yDomain = [1203.124,1207.44];
const f17_yDomain = [1645.233,1648.967];
const f24_yDomain = [1e6,1e10];
const f25_yDomain = [4030,12070];

// ---------------- DRAWING ----------------
const FONT = "'Liberation Sans', Arial, Helvetica, sans-serif";
const SERIF = "'Liberation Serif', 'Times New Roman', serif";
const AX = "#262626";
const svg = d3.select("#chart");
svg.append("rect").attr("width",2880).attr("height",2558).attr("fill","#fff");

function minorLinear(domain, step, majors){
  const out=[]; const lo=Math.ceil(domain[0]/step-1e-9), hi=Math.floor(domain[1]/step+1e-9);
  for(let k=lo;k<=hi;k++){const v=+(k*step).toFixed(6); if(!majors.some(m=>Math.abs(m-v)<1e-6)) out.push(v);}
  return out;
}
function minorLog(domain){
  const out=[];
  for(let e=Math.floor(Math.log10(domain[0]));e<=Math.ceil(Math.log10(domain[1]));e++)
    for(let k=2;k<=9;k++){const v=k*Math.pow(10,e); if(v>domain[0]&&v<domain[1]) out.push(v);}
  return out;
}

const panels = [
  {key:"c", left:196, top:74, w:1147, h:905, ylabX:39, scale:"linear", yDomain:f10_yDomain, yTicks:f10_yTicks,
   minors:minorLinear(f10_yDomain,0.1,f10_yTicks), fmt:d=>String(d),
   series:[f10_PSO,f10_TSA,f10_STSA,f10_MTSA,f10_EST,f10_fbTSA,f10_DTSA,f10_GWO,f10_BOA,f10_RSA,f10_GA],
   cap:{letter:"c", sub:"10", rest:", multimodal function", cx:743, base:1228}},
  {key:"d", left:1690, top:74, w:1147, h:905, ylabX:1535, scale:"linear", yDomain:f17_yDomain, yTicks:f17_yTicks,
   minors:minorLinear(f17_yDomain,0.1,f17_yTicks), fmt:d=>String(d),
   series:[f17_PSO,f17_TSA,f17_STSA,f17_MTSA,f17_EST,f17_fbTSA,f17_DTSA,f17_GWO,f17_BOA,f17_RSA,f17_GA],
   cap:{letter:"d", sub:"17", rest:", multimodal function", cx:2237, base:1228}},
  {key:"e", left:196, top:1365, w:1147, h:908, ylabX:77, scale:"log", yDomain:f24_yDomain, yTicks:f24_yTicks,
   minors:minorLog(f24_yDomain), fmt:null,
   series:[f24_PSO,f24_TSA,f24_STSA,f24_MTSA,f24_EST,f24_fbTSA,f24_DTSA,f24_GWO,f24_BOA,f24_RSA,f24_GA],
   cap:{letter:"e", sub:"24", rest:", hybrid function", cx:742, base:2516}},
  {key:"f", left:1690, top:1365, w:1147, h:908, ylabX:1544, scale:"log", yDomain:f25_yDomain, yTicks:f25_yTicks,
   minors:minorLinear(f25_yDomain,200,f25_yTicks), fmt:d=>String(d),
   series:[f25_PSO,f25_TSA,f25_STSA,f25_MTSA,f25_EST,f25_fbTSA,f25_DTSA,f25_GWO,f25_BOA,f25_RSA,f25_GA],
   cap:{letter:"f", sub:"25", rest:", composite function", cx:2237, base:2516}}
];

panels.forEach(p => {
  const g = svg.append("g");
  const x = d3.scaleLinear().domain([0,500]).range([p.left, p.left+p.w]);
  const y = (p.scale==="log"? d3.scaleLog(): d3.scaleLinear()).domain(p.yDomain).range([p.top+p.h, p.top]);
  const clipId = "clip-"+p.key;
  svg.append("clipPath").attr("id",clipId).append("rect")
    .attr("x",p.left).attr("y",p.top).attr("width",p.w).attr("height",p.h);

  // curves
  const line = d3.line().x(d=>x(d[0])).y(d=>y(d[1]));
  const lg = g.append("g").attr("clip-path",`url(#${clipId})`);
  p.series.forEach((s,i)=>{
    lg.append("path").attr("d",line(s)).attr("fill","none")
      .attr("stroke",seriesColors[i]).attr("stroke-width",2.2).attr("stroke-linejoin","round");
  });

  // axes
  const styleAxis = sel => { sel.select(".domain").remove(); sel.selectAll("line").attr("stroke",AX).attr("stroke-width",2);
    sel.selectAll("text").attr("fill",AX).style("font-family",FONT).style("font-size","34px"); };
  g.append("g").attr("transform",`translate(0,${p.top+p.h})`)
    .call(d3.axisBottom(x).tickValues(xTickValues).tickSize(-11).tickPadding(30).tickFormat(d3.format("d"))).call(styleAxis);
  g.append("g").attr("transform",`translate(0,${p.top})`)
    .call(d3.axisTop(x).tickValues(xTickValues).tickSize(-11).tickFormat("")).call(styleAxis);
  g.append("g").attr("transform",`translate(${p.left},0)`)
    .call(d3.axisLeft(y).tickValues(p.yTicks).tickSize(-11).tickPadding(18).tickFormat(p.fmt? p.fmt : ()=>"")).call(styleAxis);
  g.append("g").attr("transform",`translate(${p.left+p.w},0)`)
    .call(d3.axisRight(y).tickValues(p.yTicks).tickSize(-11).tickFormat("")).call(styleAxis);
  g.append("g").attr("transform",`translate(${p.left},0)`)
    .call(d3.axisLeft(y).tickValues(p.minors).tickSize(-5.5).tickFormat("")).call(styleAxis);
  g.append("g").attr("transform",`translate(${p.left+p.w},0)`)
    .call(d3.axisRight(y).tickValues(p.minors).tickSize(-5.5).tickFormat("")).call(styleAxis);

  if(!p.fmt){ // power-of-ten labels
    p.yTicks.forEach(v=>{
      const t = g.append("text").attr("x",p.left-18).attr("y",y(v)+18).attr("text-anchor","end")
        .attr("fill",AX).style("font-family",FONT).style("font-size","34px");
      t.append("tspan").text("10");
      t.append("tspan").attr("dy",-17).style("font-size","24px").text(Math.round(Math.log10(v)));
    });
  }

  // frame
  g.append("rect").attr("x",p.left).attr("y",p.top).attr("width",p.w).attr("height",p.h)
    .attr("fill","none").attr("stroke",AX).attr("stroke-width",2);

  // title & labels
  g.append("text").attr("x",p.left+p.w/2).attr("y",p.top-14).attr("text-anchor","middle")
    .style("font-family",FONT).style("font-size","38px").attr("fill","#000").text("Convergence curve");
  g.append("text").attr("x",p.left+p.w/2).attr("y",p.top+p.h+105).attr("text-anchor","middle")
    .style("font-family",FONT).style("font-size","38px").attr("fill",AX).text("Iteration");
  g.append("text").attr("transform",`translate(${p.ylabX+13},${p.top+p.h/2}) rotate(-90)`).attr("text-anchor","middle")
    .style("font-family",FONT).style("font-size","38px").attr("fill",AX).text("Best score obtained so far");

  // legend
  const bw=269, bh=469, bx=p.left+p.w-29-bw, by=p.top+29;
  const leg = g.append("g");
  leg.append("rect").attr("x",bx).attr("y",by).attr("width",bw).attr("height",bh)
    .attr("fill","#fff").attr("stroke",AX).attr("stroke-width",2);
  algorithms.forEach((name,i)=>{
    const cy = by+26+i*41.75;
    leg.append("line").attr("x1",bx+10).attr("x2",bx+116).attr("y1",cy).attr("y2",cy)
      .attr("stroke",seriesColors[i]).attr("stroke-width",2.2);
    leg.append("text").attr("x",bx+123).attr("y",cy).attr("dy","0.36em")
      .style("font-family",FONT).style("font-size","31.5px").attr("fill","#000").text(name);
  });

  // caption
  const cap = svg.append("text").attr("x",p.cap.cx).attr("y",p.cap.base).attr("text-anchor","middle")
    .style("font-family",SERIF).style("font-size","83px").attr("fill","#000");
  cap.append("tspan").text("(");
  cap.append("tspan").style("font-weight","bold").text(p.cap.letter);
  cap.append("tspan").text(") ");
  cap.append("tspan").style("font-style","italic").text("f");
  cap.append("tspan").attr("dy",17).style("font-size","58px").text(p.cap.sub);
  cap.append("tspan").attr("dy",-17).text(p.cap.rest);
});
</script>
</body></html>
